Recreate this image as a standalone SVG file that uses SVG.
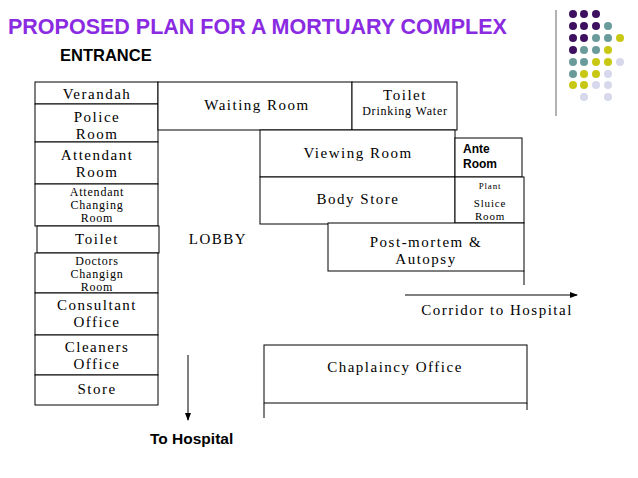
<svg xmlns="http://www.w3.org/2000/svg" width="638" height="478" viewBox="0 0 638 478">
<style>
.r{fill:#fff;stroke:#000;stroke-width:1}
.t{font-family:"Liberation Serif",serif;font-size:15px;text-anchor:middle;letter-spacing:1.5px}
.s{font-family:"Liberation Serif",serif;font-size:12px;text-anchor:middle;letter-spacing:0.8px}
.b{font-family:"Liberation Sans",sans-serif;font-weight:bold;font-size:13px}
.ln{stroke:#000;stroke-width:1;fill:none}
</style>
<defs><marker id="a" markerWidth="8" markerHeight="8" refX="7" refY="4" orient="auto"><path d="M0,1L8,4L0,7Z" fill="#000"/></marker></defs>
<rect width="638" height="478" fill="#fff"/>
<text x="8" y="34" font-family="Liberation Sans,sans-serif" font-weight="bold" font-size="21.5" fill="#8a2be2">PROPOSED PLAN FOR A MORTUARY COMPLEX</text>
<text x="60" y="61" class="b" style="font-size:16.5px">ENTRANCE</text>
<line x1="556" y1="10" x2="556" y2="116" stroke="#666"/>
<g id="dots">
<g fill="#3d1060"><circle cx="573" cy="14" r="4"/><circle cx="584" cy="14" r="4"/><circle cx="596" cy="14" r="4"/><circle cx="573" cy="26" r="4"/><circle cx="584" cy="26" r="4"/><circle cx="596" cy="26" r="4"/><circle cx="573" cy="38" r="4"/><circle cx="584" cy="38" r="4"/><circle cx="573" cy="50" r="4"/></g>
<g fill="#6a9a9a"><circle cx="608" cy="26" r="4"/><circle cx="596" cy="38" r="4"/><circle cx="608" cy="38" r="4"/><circle cx="584" cy="50" r="4"/><circle cx="596" cy="50" r="4"/><circle cx="573" cy="62" r="4"/><circle cx="584" cy="62" r="4"/><circle cx="573" cy="74" r="4"/></g>
<g fill="#c8c814"><circle cx="620" cy="38" r="4"/><circle cx="608" cy="50" r="4"/><circle cx="596" cy="62" r="4"/><circle cx="608" cy="62" r="4"/><circle cx="584" cy="74" r="4"/><circle cx="596" cy="74" r="4"/><circle cx="573" cy="85" r="4"/><circle cx="584" cy="85" r="4"/></g>
<g fill="#d8d8ec"><circle cx="620" cy="62" r="4"/><circle cx="608" cy="74" r="4"/><circle cx="596" cy="85" r="4"/><circle cx="608" cy="85" r="4"/><circle cx="584" cy="97" r="4"/><circle cx="608" cy="97" r="4"/></g>
</g>
<g id="verandah"><rect class="r" x="35" y="82" width="123" height="22"/><text class="t" x="97" y="99">Verandah</text></g>
<g id="police"><rect class="r" x="35" y="104" width="123" height="38"/><text class="t" x="97" y="122">Police</text><text class="t" x="97" y="139">Room</text></g>
<g id="attendant"><rect class="r" x="35" y="142" width="123" height="42"/><text class="t" x="97" y="160">Attendant</text><text class="t" x="97" y="177">Room</text></g>
<g id="changing"><rect class="r" x="35" y="184" width="123" height="42"/><text class="s" x="97" y="196">Attendant</text><text class="s" x="97" y="209">Changing</text><text class="s" x="97" y="222">Room</text></g>
<g id="toilet1"><rect class="r" x="37" y="226" width="122" height="27"/><text class="t" x="97" y="244">Toilet</text></g>
<g id="doctors"><rect class="r" x="35" y="253" width="123" height="40"/><text class="s" x="97" y="265">Doctors</text><text class="s" x="97" y="278">Changign</text><text class="s" x="97" y="291">Room</text></g>
<g id="consultant"><rect class="r" x="35" y="293" width="123" height="42"/><text class="t" x="97" y="310">Consultant</text><text class="t" x="97" y="327">Office</text></g>
<g id="cleaners"><rect class="r" x="35" y="335" width="123" height="40"/><text class="t" x="97" y="352">Cleaners</text><text class="t" x="97" y="369">Office</text></g>
<g id="store"><rect class="r" x="35" y="375" width="123" height="30"/><text class="t" x="97" y="394">Store</text></g>
<g id="waiting"><rect class="r" x="158" y="82" width="194" height="48"/><text class="t" x="257" y="110">Waiting Room</text></g>
<g id="toilet2"><rect class="r" x="352" y="82" width="105" height="48"/><text class="t" x="405" y="100">Toilet</text><text class="s" x="405" y="115">Drinking Water</text></g>
<g id="viewing"><rect class="r" x="260" y="130" width="195" height="47"/><text class="t" x="358" y="158">Viewing Room</text></g>
<g id="bodystore"><rect class="r" x="260" y="177" width="195" height="47"/><text class="t" x="358" y="204">Body Store</text></g>
<g id="ante"><rect class="r" x="455" y="138" width="67" height="39"/><text class="b" x="463" y="153" style="font-size:12px">Ante</text><text class="b" x="463" y="168" style="font-size:12px">Room</text></g>
<g id="sluice"><rect class="r" x="455" y="177" width="69" height="46"/><text class="s" x="490" y="189" style="font-size:9px">Plant</text><text class="s" x="490" y="207" style="font-size:11px">Sluice</text><text class="s" x="490" y="220" style="font-size:11px">Room</text></g>
<g id="postmortem"><rect class="r" x="328" y="223" width="196" height="48"/><text class="t" x="426" y="247">Post-mortem &amp;</text><text class="t" x="426" y="264">Autopsy</text></g>
<g id="lobby"><text class="t" x="218" y="244">LOBBY</text></g>
<g id="corridor"><text class="t" x="497" y="315">Corridor to Hospital</text></g>
<g id="chaplaincy"><rect class="r" x="264" y="345" width="263" height="58"/><text class="t" x="395" y="372">Chaplaincy Office</text></g>
<g id="tohospital"><text class="b" x="150" y="444" style="font-size:15.5px">To Hospital</text></g>
<g id="connectors">
<line class="ln" x1="524" y1="271" x2="524" y2="285"/>
<line class="ln" x1="264" y1="403" x2="264" y2="418"/>
<line class="ln" x1="527" y1="403" x2="527" y2="410"/>
<line class="ln" x1="405" y1="295" x2="577" y2="295" marker-end="url(#a)"/>
<line class="ln" x1="188" y1="355" x2="188" y2="420" marker-end="url(#a)"/>
</g>
</svg>
